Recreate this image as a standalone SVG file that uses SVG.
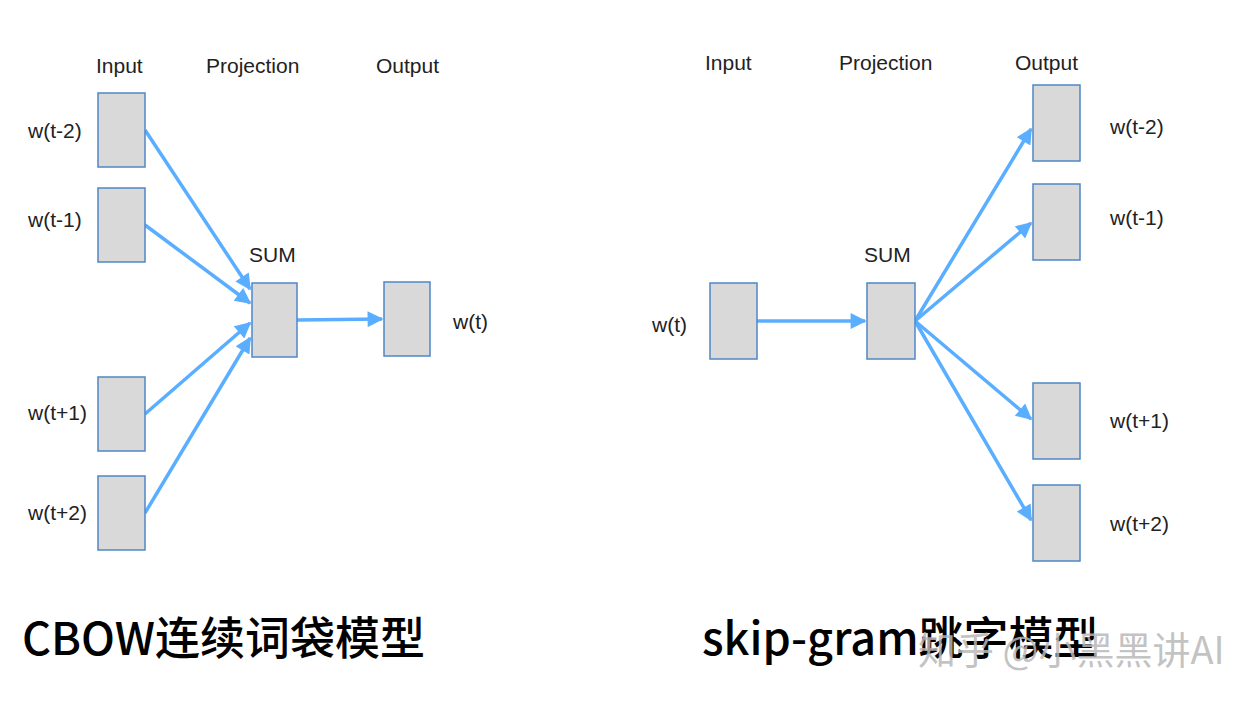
<svg xmlns="http://www.w3.org/2000/svg" width="1258" height="701" viewBox="0 0 1258 701">
<style>
.b{fill:#d9d9d9;stroke:#4f86c6;stroke-width:1.5}
.t{font-family:"Liberation Sans",Arial,sans-serif;font-size:21px;fill:#222}
.e{stroke:#5aaeff;stroke-width:3.5;fill:none;marker-end:url(#a)}
.h{font-family:"Noto Sans CJK SC",sans-serif;font-size:45px;font-weight:500;fill:#000}
</style>
<defs><marker id="a" viewBox="0 0 10 10" refX="9" refY="5" markerWidth="18" markerHeight="16" markerUnits="userSpaceOnUse" orient="auto"><path d="M0,0L10,5L0,10z" fill="#5aaeff"/></marker></defs>
<rect width="1258" height="701" fill="#fff"/>
<g id="labels-left">
<text class="t" x="96" y="73">Input</text><text class="t" x="206" y="73">Projection</text><text class="t" x="376" y="73">Output</text>
<text class="t" x="28" y="138">w(t-2)</text><text class="t" x="28" y="227">w(t-1)</text><text class="t" x="28" y="420">w(t+1)</text><text class="t" x="28" y="520">w(t+2)</text>
<text class="t" x="249" y="262">SUM</text><text class="t" x="453" y="329">w(t)</text>
</g>
<g id="connectors">
<line class="e" x1="145" y1="130" x2="250" y2="289"/>
<line class="e" x1="145" y1="225" x2="250" y2="303"/>
<line class="e" x1="145" y1="414" x2="250" y2="323"/>
<line class="e" x1="145" y1="513" x2="250" y2="338"/>
<line class="e" x1="297" y1="320" x2="382" y2="319"/>
<line class="e" x1="757" y1="321" x2="865" y2="321"/>
<line class="e" x1="915" y1="321" x2="1031" y2="129"/>
<line class="e" x1="915" y1="321" x2="1031" y2="223"/>
<line class="e" x1="915" y1="321" x2="1031" y2="419"/>
<line class="e" x1="915" y1="321" x2="1031" y2="520"/>
</g>
<g id="in-l1"><rect class="b" x="98" y="93" width="47" height="74"/></g>
<g id="in-l2"><rect class="b" x="98" y="188" width="47" height="74"/></g>
<g id="in-l3"><rect class="b" x="98" y="377" width="47" height="74"/></g>
<g id="in-l4"><rect class="b" x="98" y="476" width="47" height="74"/></g>
<g id="sum-l"><rect class="b" x="252" y="283" width="45" height="74"/></g>
<g id="out-l"><rect class="b" x="384" y="282" width="46" height="74"/></g>
<g id="labels-right">
<text class="t" x="705" y="70">Input</text><text class="t" x="839" y="70">Projection</text><text class="t" x="1015" y="70">Output</text>
<text class="t" x="864" y="262">SUM</text><text class="t" x="652" y="332">w(t)</text>
<text class="t" x="1110" y="134">w(t-2)</text><text class="t" x="1110" y="225">w(t-1)</text><text class="t" x="1110" y="428">w(t+1)</text><text class="t" x="1110" y="531">w(t+2)</text>
</g>
<g id="in-r"><rect class="b" x="710" y="283" width="47" height="76"/></g>
<g id="sum-r"><rect class="b" x="867" y="283" width="48" height="76"/></g>
<g id="out-r1"><rect class="b" x="1033" y="85" width="47" height="76"/></g>
<g id="out-r2"><rect class="b" x="1033" y="184" width="47" height="76"/></g>
<g id="out-r3"><rect class="b" x="1033" y="383" width="47" height="76"/></g>
<g id="out-r4"><rect class="b" x="1033" y="485" width="47" height="76"/></g>
<text class="h" x="22" y="655">CBOW连续词袋模型</text>
<text class="h" x="702" y="655" font-size="44">skip-gram跳字模型</text>
<text x="918" y="664" font-family="Noto Sans CJK SC,sans-serif" font-size="38" fill="#b8b8b8" fill-opacity="0.85">知乎 @小黑黑讲AI</text>
</svg>
